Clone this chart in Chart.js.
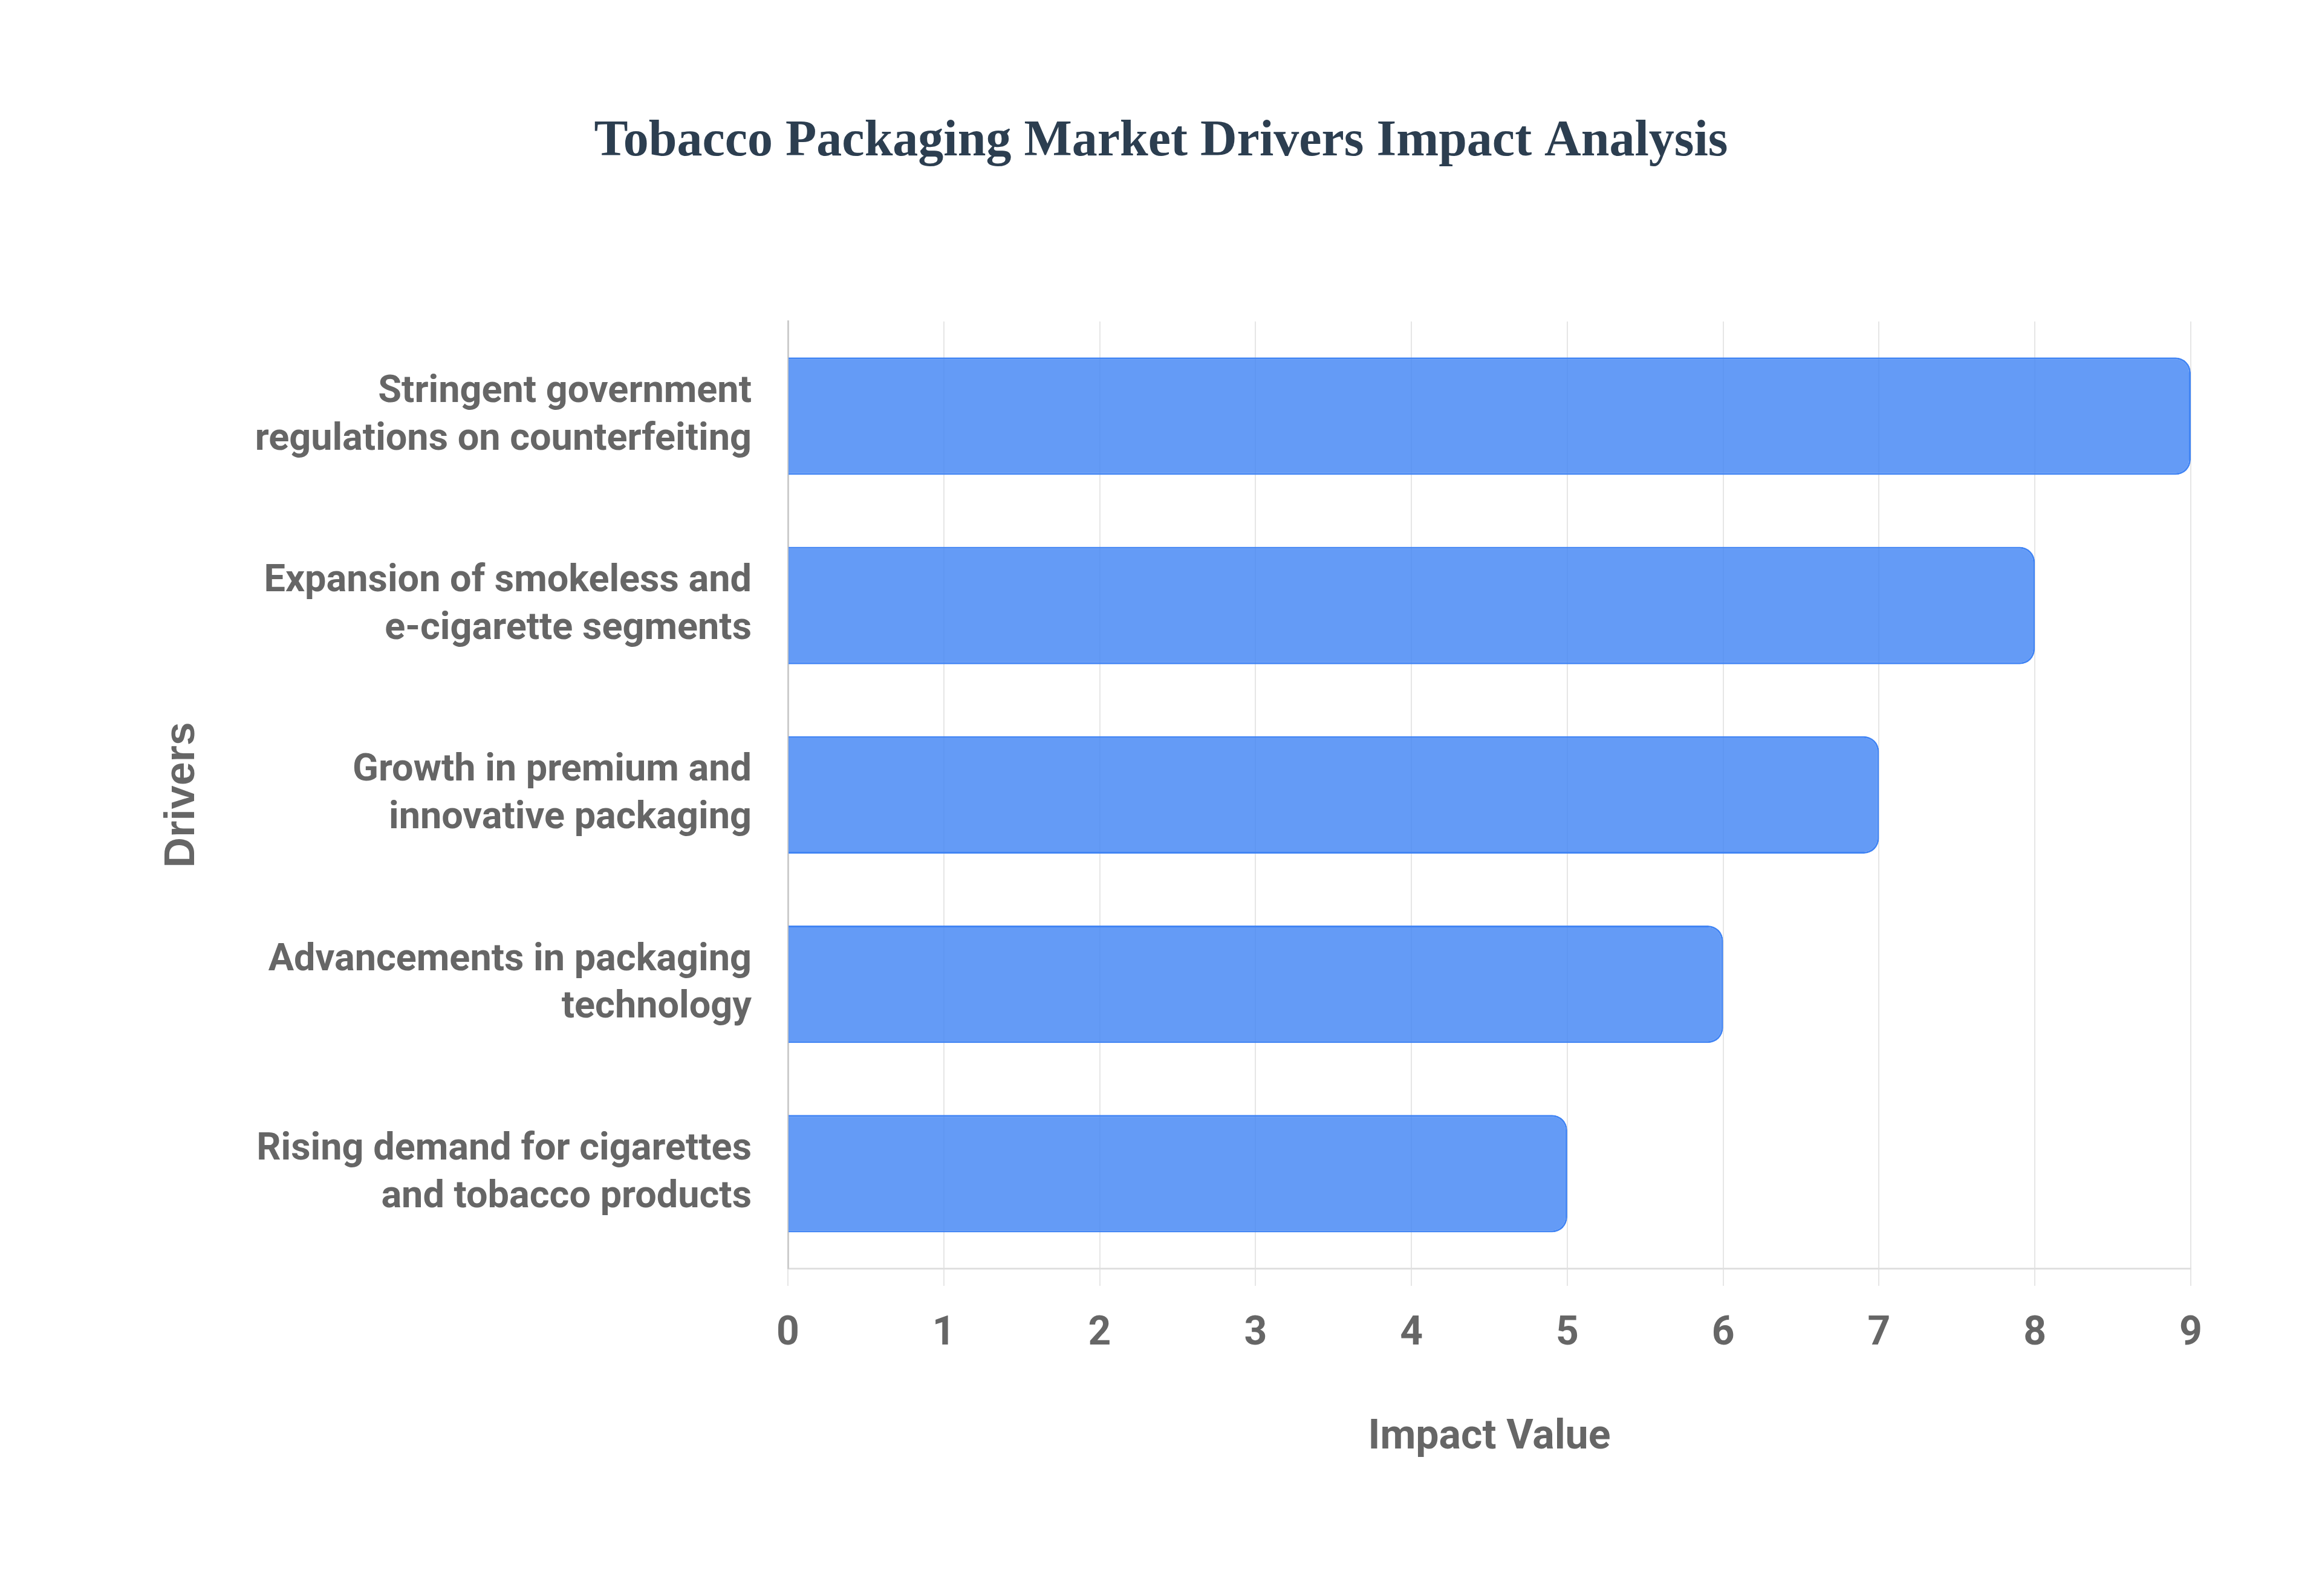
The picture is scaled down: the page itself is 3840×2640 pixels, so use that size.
<!DOCTYPE html>
<html>
<head>
<meta charset="utf-8">
<script src="https://cdn.jsdelivr.net/npm/chart.js@4.4.0/dist/chart.umd.min.js"></script>
<style>
  html, body { margin: 0; padding: 0; background: #fff; }
  #wrap { width: 3840px; height: 2640px; position: relative; }
</style>
</head>
<body>
<div id="wrap"><canvas id="bar-chart"></canvas></div>
<script>
// data
const drivers = [
  ["Stringent government", "regulations on counterfeiting"],
  ["Expansion of smokeless and", "e-cigarette segments"],
  ["Growth in premium and", "innovative packaging"],
  ["Advancements in packaging", "technology"],
  ["Rising demand for cigarettes", "and tobacco products"]
];
const impactValues = [9, 8, 7, 6, 5];
const axisMin = 0;
const axisMax = 9;

const gray = "#666666";
const sans = "Roboto, 'Liberation Sans', sans-serif";

const drawChart = () => {
  new Chart(document.getElementById("bar-chart"), {
    type: 'bar',
    data: {
      labels: drivers,
      datasets: [{
        label: "Impact Value",
        data: impactValues,
        backgroundColor: "rgba(66, 133, 244, 0.82)",
        borderColor: "#4285f4",
        borderWidth: 3,
        borderRadius: 25,
        barPercentage: 0.62,
        categoryPercentage: 1
      }]
    },
    options: {
      indexAxis: 'y',
      responsive: true,
      maintainAspectRatio: false,
      devicePixelRatio: 1,
      animation: false,
      layout: { padding: { top: 0, right: 217, bottom: 0, left: 217 } },
      plugins: {
        legend: { display: false },
        tooltip: { enabled: false },
        title: {
          display: true,
          text: 'Tobacco Packaging Market Drivers Impact Analysis',
          color: '#2c3e50',
          font: { family: "'Liberation Serif', 'Times New Roman', serif", size: 84, weight: 'bold', lineHeight: 1.2 },
          padding: { top: 185, bottom: 246 }
        }
      },
      scales: {
        x: {
          min: axisMin,
          max: axisMax,
          ticks: {
            stepSize: 1,
            color: gray,
            padding: 41,
            font: { family: sans, size: 66, weight: 'bold' }
          },
          grid: { color: '#e6e6e6', lineWidth: 2, tickLength: 29 },
          border: { color: '#e0e0e0', width: 3 },
          title: {
            display: true,
            text: 'Impact Value',
            color: gray,
            font: { family: sans, size: 68, weight: 'bold' },
            padding: { top: 0, bottom: 220 }
          },
          afterFit: (scale) => { scale.height = 542; }
        },
        y: {
          ticks: {
            color: gray,
            padding: 60,
            font: { family: sans, size: 63, weight: 'bold', lineHeight: 1.25 }
          },
          grid: { display: false, drawTicks: false },
          border: { display: true, color: '#cccccc', width: 3 },
          title: {
            display: true,
            text: 'Drivers',
            color: gray,
            font: { family: "'Liberation Sans', Arial, sans-serif", size: 70, weight: 'bold' },
            padding: { top: 43, bottom: 0 }
          },
          afterFit: (scale) => { scale.width = 1086; }
        }
      }
    }
  });
}

drawChart();
</script>
</body>
</html>
